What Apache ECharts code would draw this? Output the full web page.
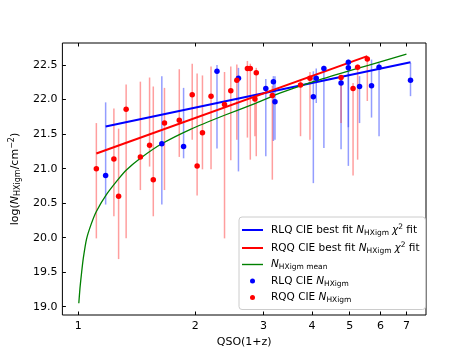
<!DOCTYPE html>
<html>
<head>
<meta charset="utf-8">
<script src="https://cdn.jsdelivr.net/npm/echarts@6/dist/echarts.min.js"></script>
<style>html,body{margin:0;padding:0;background:#fff;}#c{width:474px;height:355px;}</style>
</head>
<body>
<div id="c"></div>
<script>
// ---- data ----
const xTicks = [1, 2, 3, 4, 5, 6, 7];
const yTicks = [19.0, 19.5, 20.0, 20.5, 21.0, 21.5, 22.0, 22.5];

// RLQ CIE points (blue)
const rlqX  = [1.176, 1.641, 1.867, 2.276, 2.585, 3.04, 3.18, 3.21, 4.03, 4.10, 4.29, 4.75, 4.96, 4.96, 5.30, 5.69, 5.95, 7.17];
const rlqY  = [20.90, 21.36, 21.32, 22.41, 22.31, 22.16, 22.26, 21.97, 22.04, 22.31, 22.45, 22.24, 22.54, 22.46, 22.19, 22.20, 22.47, 22.28];
const rlqLo = [20.48, 20.48, 21.15, 21.29, 20.96, 21.18, 21.40, 21.42, 20.79, 21.95, 21.30, 21.28, 21.04, 21.60, 21.66, 21.74, 21.47, 22.05];
const rlqHi = [21.96, 22.34, 22.17, 22.50, 22.46, 22.30, 22.34, 22.34, 22.41, 22.45, 22.49, 22.29, 22.58, 22.50, 22.34, 22.58, 22.53, 22.53];

// RQQ CIE points (red)
const rqqX  = [1.113, 1.235, 1.270, 1.328, 1.445, 1.526, 1.560, 1.667, 1.820, 1.965, 2.023, 2.088, 2.197, 2.380, 2.470, 2.560, 2.726, 2.773, 2.850, 2.873, 3.16, 3.735, 3.95, 4.75, 5.10, 5.24, 5.55];
const rqqY  = [21.00, 21.14, 20.60, 21.86, 21.17, 21.34, 20.84, 21.66, 21.70, 22.07, 21.04, 21.52, 22.05, 21.93, 22.13, 22.28, 22.45, 22.45, 22.01, 22.39, 22.06, 22.21, 22.31, 22.32, 22.16, 22.47, 22.59];
const rqqLo = [19.99, 20.31, 19.69, 19.99, 20.69, 21.03, 20.31, 20.69, 21.17, 21.42, 20.61, 20.99, 20.99, 19.99, 21.12, 21.42, 21.45, 21.13, 21.47, 21.18, 20.84, 21.47, 21.42, 21.66, 20.90, 21.13, 21.98];
const rqqHi = [21.66, 21.87, 21.58, 22.22, 22.26, 22.32, 22.19, 22.17, 22.44, 22.52, 22.38, 22.35, 22.48, 22.40, 22.48, 22.51, 22.56, 22.52, 22.05, 22.46, 22.20, 22.29, 22.40, 22.34, 22.24, 22.51, 22.63];

// best-fit lines
const rlqFitX = [1.176, 7.17];
const rlqFitY = [21.61, 22.54];
const rqqFitX = [1.113, 5.55];
const rqqFitY = [21.22, 22.63];

// mean curve (green)
const meanX = [1.003, 1.01, 1.02, 1.03, 1.05, 1.08, 1.113, 1.18, 1.265, 1.33, 1.445, 1.64, 1.945, 2.37, 2.87, 3.33, 3.98, 4.74, 5.61, 7.0];
const meanY = [19.05, 19.27, 19.50, 19.70, 19.98, 20.20, 20.38, 20.62, 20.84, 20.98, 21.15, 21.36, 21.57, 21.77, 21.95, 22.10, 22.25, 22.38, 22.50, 22.66];

// ---- build ----
const zip = (a, b) => a.map((v, i) => [v, b[i]]);
const zip3 = (a, b, c) => a.map((v, i) => [v, b[i], c[i]]);
const FONT = 'DejaVu Sans';

function errRender(color) {
  return function (params, api) {
    const x = api.value(0), lo = api.value(1), hi = api.value(2);
    const p1 = api.coord([x, lo]), p2 = api.coord([x, hi]);
    return { type: 'line', shape: { x1: p1[0], y1: p1[1], x2: p2[0], y2: p2[1] },
             style: { stroke: color, lineWidth: 1.5 } };
  };
}

function makeRich(fs, ss) {
  return {
    t: { fontFamily: FONT, fontSize: fs, color: '#000', lineHeight: 14 },
    i: { fontFamily: FONT, fontSize: fs, fontStyle: 'italic', color: '#000', lineHeight: 14 },
    s: { fontFamily: FONT, fontSize: ss, color: '#000', lineHeight: ss, verticalAlign: 'bottom' },
    p: { fontFamily: FONT, fontSize: ss, color: '#000', lineHeight: ss, verticalAlign: 'top' },
    g: { width: 3 }
  };
}
const axisRich = makeRich(11, 8);
const legendRich = makeRich(10.5, 7.5);
const legendText = {
  rlqFit: '{t|RLQ CIE best fit }{i|N}{s|HXigm}{g|}{i|χ}{p|2}{t| fit}',
  rqqFit: '{t|RQQ CIE best fit }{i|N}{s|HXigm}{g|}{i|χ}{p|2}{t| fit}',
  mean: '{i|N}{s|HXigm mean}',
  rlq: '{t|RLQ CIE }{i|N}{s|HXigm}',
  rqq: '{t|RQQ CIE }{i|N}{s|HXigm}'
};
const linePath = 'path://M0,0 L21,0 L21,2 L0,2 Z';

const option = {
  animation: false,
  backgroundColor: '#fff',
  grid: { left: 59, right: 48, top: 43, bottom: 40, show: true, borderColor: '#000', borderWidth: 1, backgroundColor: 'transparent' },
  xAxis: [{
    type: 'log', logBase: 10, min: 0.91, max: 7.86,
    name: 'QSO(1+z)', nameLocation: 'middle', nameGap: 21,
    nameTextStyle: { fontFamily: FONT, fontSize: 11, color: '#000' },
    axisLine: { show: false },
    axisTick: { show: true, inside: true, length: 3.5, lineStyle: { color: '#000' }, customValues: xTicks },
    axisLabel: { show: true, customValues: xTicks, fontFamily: FONT, fontSize: 11, color: '#000', margin: 6,
                 formatter: v => String(Math.round(v)) },
    minorTick: { show: false }, splitLine: { show: false }
  }, {
    type: 'log', logBase: 10, min: 0.91, max: 7.86, position: 'top',
    axisLine: { show: false },
    axisTick: { show: true, inside: true, length: 3.5, lineStyle: { color: '#000' }, customValues: xTicks },
    axisLabel: { show: false }, splitLine: { show: false }
  }],
  yAxis: {
    type: 'value', min: 18.88, max: 22.82,
    name: '{t|log(}{i|N}{s|HXigm}{t|/cm}{p|−2}{t|)}',
    nameLocation: 'middle', nameGap: 31, nameRotate: 90,
    nameTextStyle: { rich: axisRich },
    axisLine: { show: false },
    axisTick: { show: true, inside: true, length: 3.5, lineStyle: { color: '#000' }, customValues: yTicks },
    axisLabel: { customValues: yTicks, fontFamily: FONT, fontSize: 11, color: '#000', margin: 5,
                 formatter: v => v.toFixed(1) },
    splitLine: { show: false }
  },
  legend: {
    orient: 'vertical', left: 239, top: 217,
    padding: [6, 6, 5, 3], itemGap: 4,
    itemWidth: 21, itemHeight: 5,
    backgroundColor: 'rgba(255,255,255,0.85)', borderColor: '#ccc', borderWidth: 1, borderRadius: 3,
    textStyle: { rich: legendRich, padding: [0, 0, 0, 3] },
    formatter: name => legendText[name],
    data: [
      { name: 'rlqFit', icon: linePath },
      { name: 'rqqFit', icon: linePath },
      { name: 'mean', icon: 'path://M0,0 L21,0 L21,1.4 L0,1.4 Z' },
      { name: 'rlq', icon: 'circle' },
      { name: 'rqq', icon: 'circle' }
    ]
  },
  series: [
    { type: 'custom', name: 'rlqErr', data: zip3(rlqX, rlqLo, rlqHi), renderItem: errRender('rgba(40,60,255,0.5)'),
      encode: { x: 0, y: [1, 2] }, z: 1, silent: true },
    { type: 'custom', name: 'rqqErr', data: zip3(rqqX, rqqLo, rqqHi), renderItem: errRender('rgba(255,40,40,0.45)'),
      encode: { x: 0, y: [1, 2] }, z: 1, silent: true },
    { type: 'line', name: 'rlqFit', data: zip(rlqFitX, rlqFitY), showSymbol: false, symbol: 'none',
      lineStyle: { color: '#0000ff', width: 2 }, itemStyle: { color: '#0000ff' }, z: 3 },
    { type: 'line', name: 'rqqFit', data: zip(rqqFitX, rqqFitY), showSymbol: false, symbol: 'none',
      lineStyle: { color: '#ff0000', width: 2 }, itemStyle: { color: '#ff0000' }, z: 3 },
    { type: 'line', name: 'mean', data: zip(meanX, meanY), showSymbol: false, symbol: 'none', smooth: 0.2,
      lineStyle: { color: '#008000', width: 1.3 }, itemStyle: { color: '#008000' }, z: 3 },
    { type: 'scatter', name: 'rlq', data: zip(rlqX, rlqY), symbolSize: 5.5,
      itemStyle: { color: '#0000ff', opacity: 1 }, z: 4 },
    { type: 'scatter', name: 'rqq', data: zip(rqqX, rqqY), symbolSize: 5.5,
      itemStyle: { color: '#ff0000', opacity: 1 }, z: 4 }
  ]
};

const chart = echarts.init(document.getElementById('c'), null, { renderer: 'canvas' });
chart.setOption(option);
</script>
</body>
</html>
